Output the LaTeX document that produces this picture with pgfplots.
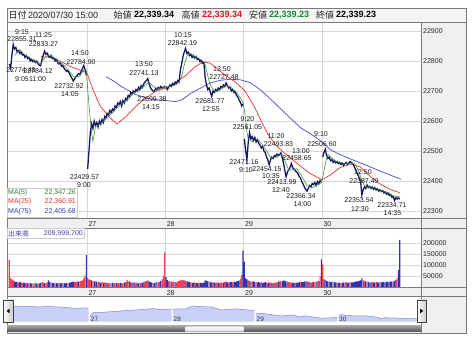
\documentclass[border=0pt]{standalone}
\usepackage{fontspec}
\setmainfont{Liberation Sans}
\newfontfamily\cjk{Noto Sans CJK JP}
\usepackage{pgfplots}
\pgfplotsset{compat=1.18}
\usepackage{pgfplotstable}
\definecolor{framec}{HTML}{7A7A7A}
\definecolor{stripbg}{HTML}{F0F0F0}
\definecolor{hdrbg}{HTML}{F4F4F4}
\definecolor{gridc}{HTML}{D8D8D8}
\definecolor{candle}{HTML}{18186A}
\definecolor{ma5}{HTML}{3C963C}
\definecolor{ma25}{HTML}{F03030}
\definecolor{ma75}{HTML}{4646DC}
\definecolor{volr}{HTML}{F04058}
\definecolor{volb}{HTML}{3232B4}
\definecolor{navfill}{HTML}{C8D0F8}
\definecolor{navline}{HTML}{8088DC}
\definecolor{hred}{HTML}{E8101C}
\definecolor{hgreen}{HTML}{108A2A}
\definecolor{annc}{HTML}{1A1A1A}
\definecolor{volt}{HTML}{4040A8}
\newcommand\tf{\fontsize{7}{8}\selectfont}
\newcommand\hf{\fontsize{9}{10}\selectfont}

\pgfplotstableread[row sep=\\]{
x p\\
0 22790\\ 1 22775\\ 2 22820\\ 3 22855\\ 4 22840\\ 5 22845\\ 6 22830\\ 7 22835\\ 8 22825\\ 9 22830\\
10 22820\\ 11 22822\\ 12 22812\\ 13 22818\\ 14 22808\\ 15 22812\\ 16 22800\\ 17 22805\\ 18 22798\\ 19 22802\\
20 22795\\ 21 22800\\ 22 22790\\ 23 22786\\ 24 22784\\ 25 22805\\ 26 22820\\ 27 22833\\ 28 22822\\ 29 22826\\
30 22815\\ 31 22812\\ 32 22818\\ 33 22808\\ 34 22810\\ 35 22800\\ 36 22805\\ 37 22795\\ 38 22790\\ 39 22794\\
40 22782\\ 41 22785\\ 42 22775\\ 43 22770\\ 44 22765\\ 45 22768\\ 46 22758\\ 47 22750\\ 48 22742\\ 49 22733\\
50 22740\\ 51 22748\\ 52 22752\\ 53 22758\\ 54 22755\\ 55 22765\\ 56 22775\\ 57 22785\\ 58 22772\\ 59 22752\\
nan nan\\
60 22440\\ 61 22500\\ 62 22560\\ 63 22590\\ 64 22575\\ 65 22600\\ 66 22585\\ 67 22595\\ 68 22580\\ 69 22600\\
70 22590\\ 71 22605\\ 72 22595\\ 73 22615\\ 74 22610\\ 75 22625\\ 76 22620\\ 77 22635\\ 78 22628\\ 79 22640\\
80 22635\\ 81 22650\\ 82 22645\\ 83 22660\\ 84 22655\\ 85 22665\\ 86 22650\\ 87 22668\\ 88 22660\\ 89 22675\\
90 22670\\ 91 22685\\ 92 22680\\ 93 22695\\ 94 22690\\ 95 22700\\ 96 22695\\ 97 22705\\ 98 22700\\ 99 22712\\
100 22705\\ 101 22718\\ 102 22712\\ 103 22725\\ 104 22730\\ 105 22735\\ 106 22741\\ 107 22725\\ 108 22712\\ 109 22705\\
110 22700\\ 111 22699\\ 112 22708\\ 113 22704\\ 114 22712\\ 115 22708\\ 116 22715\\ 117 22710\\ 118 22712\\ 119 22716\\
nan nan\\
120 22715\\ 121 22705\\ 122 22712\\ 123 22720\\ 124 22715\\ 125 22725\\ 126 22720\\ 127 22730\\ 128 22725\\ 129 22735\\
130 22730\\ 131 22770\\ 132 22790\\ 133 22815\\ 134 22830\\ 135 22842\\ 136 22825\\ 137 22830\\ 138 22818\\ 139 22822\\
140 22812\\ 141 22818\\ 142 22810\\ 143 22815\\ 144 22805\\ 145 22808\\ 146 22798\\ 147 22802\\ 148 22792\\ 149 22795\\
150 22745\\ 151 22720\\ 152 22705\\ 153 22710\\ 154 22695\\ 155 22682\\ 156 22700\\ 157 22695\\ 158 22705\\ 159 22700\\
160 22710\\ 161 22705\\ 162 22715\\ 163 22712\\ 164 22720\\ 165 22715\\ 166 22727\\ 167 22718\\ 168 22710\\ 169 22714\\
170 22700\\ 171 22705\\ 172 22695\\ 173 22698\\ 174 22685\\ 175 22680\\ 176 22670\\ 177 22662\\ 178 22650\\ 179 22657\\
nan nan\\
180 22540\\ 181 22500\\ 182 22471\\ 183 22530\\ 184 22561\\ 185 22540\\ 186 22548\\ 187 22535\\ 188 22545\\ 189 22530\\
190 22538\\ 191 22525\\ 192 22520\\ 193 22510\\ 194 22515\\ 195 22500\\ 196 22495\\ 197 22480\\ 198 22470\\ 199 22454\\
200 22470\\ 201 22480\\ 202 22475\\ 203 22485\\ 204 22482\\ 205 22490\\ 206 22485\\ 207 22488\\ 208 22494\\ 209 22478\\
210 22460\\ 211 22435\\ 212 22414\\ 213 22430\\ 214 22438\\ 215 22445\\ 216 22458\\ 217 22445\\ 218 22440\\ 219 22435\\
220 22430\\ 221 22425\\ 222 22415\\ 223 22410\\ 224 22398\\ 225 22390\\ 226 22380\\ 227 22372\\ 228 22366\\ 229 22375\\
230 22385\\ 231 22380\\ 232 22392\\ 233 22388\\ 234 22395\\ 235 22385\\ 236 22398\\ 237 22390\\ 238 22402\\ 239 22397\\
nan nan\\
240 22480\\ 241 22495\\ 242 22506\\ 243 22485\\ 244 22475\\ 245 22480\\ 246 22468\\ 247 22472\\ 248 22462\\ 249 22468\\
250 22460\\ 251 22465\\ 252 22458\\ 253 22462\\ 254 22455\\ 255 22460\\ 256 22452\\ 257 22458\\ 258 22462\\ 259 22455\\
260 22460\\ 261 22465\\ 262 22462\\ 263 22458\\ 264 22450\\ 265 22440\\ 266 22430\\ 267 22420\\ 268 22410\\ 269 22400\\
270 22354\\ 271 22370\\ 272 22380\\ 273 22375\\ 274 22387\\ 275 22378\\ 276 22382\\ 277 22375\\ 278 22380\\ 279 22372\\
280 22378\\ 281 22370\\ 282 22374\\ 283 22366\\ 284 22370\\ 285 22365\\ 286 22368\\ 287 22360\\ 288 22364\\ 289 22356\\
290 22360\\ 291 22352\\ 292 22355\\ 293 22346\\ 294 22348\\ 295 22335\\ 296 22345\\ 297 22340\\ 298 22344\\ 299 22339\\
}\pricetab

\pgfplotstableread[row sep=\\]{
i v c\\
0 123 1\\ 1 40 1\\ 2 35 1\\ 3 30 1\\ 4 25 0\\ 5 22 0\\ 6 24 0\\ 7 20 1\\ 8 22 0\\ 9 21 0\\
10 18 1\\ 11 20 0\\ 12 19 0\\ 13 17 1\\ 14 18 0\\ 15 16 1\\ 16 18 0\\ 17 15 0\\ 18 17 1\\ 19 16 0\\
20 18 1\\ 21 15 0\\ 22 17 1\\ 23 16 0\\ 24 19 0\\ 25 22 1\\ 26 20 1\\ 27 18 0\\ 28 17 1\\ 29 21 1\\
30 30 0\\ 31 22 0\\ 32 20 1\\ 33 18 0\\ 34 19 0\\ 35 17 1\\ 36 18 0\\ 37 16 0\\ 38 19 1\\ 39 17 0\\
40 18 0\\ 41 16 1\\ 42 19 0\\ 43 17 0\\ 44 18 0\\ 45 20 1\\ 46 19 0\\ 47 21 0\\ 48 22 0\\ 49 24 0\\
50 23 1\\ 51 22 1\\ 52 25 1\\ 53 24 0\\ 54 26 1\\ 55 28 1\\ 56 30 1\\ 57 38 1\\ 58 52 1\\ 59 145 0\\
60 40 1\\ 61 35 1\\ 62 32 1\\ 63 30 0\\ 64 28 1\\ 65 26 0\\ 66 25 1\\ 67 24 0\\ 68 22 1\\ 69 23 1\\
70 20 0\\ 71 22 1\\ 72 19 0\\ 73 21 1\\ 74 20 0\\ 75 18 1\\ 76 19 1\\ 77 17 0\\ 78 18 1\\ 79 20 0\\
80 17 1\\ 81 19 1\\ 82 18 0\\ 83 20 1\\ 84 17 1\\ 85 19 0\\ 86 18 1\\ 87 16 1\\ 88 20 0\\ 89 22 1\\
90 32 1\\ 91 28 1\\ 92 24 0\\ 93 22 1\\ 94 20 0\\ 95 19 1\\ 96 21 1\\ 97 18 0\\ 98 20 1\\ 99 17 0\\
100 19 1\\ 101 18 1\\ 102 20 0\\ 103 22 1\\ 104 25 1\\ 105 28 1\\ 106 30 1\\ 107 26 0\\ 108 22 0\\ 109 20 0\\
110 19 1\\ 111 18 0\\ 112 20 1\\ 113 22 0\\ 114 21 1\\ 115 24 1\\ 116 28 0\\ 117 35 1\\ 118 50 1\\ 119 160 1\\
120 45 0\\ 121 32 0\\ 122 28 1\\ 123 26 0\\ 124 24 1\\ 125 22 1\\ 126 24 0\\ 127 22 1\\ 128 21 1\\ 129 25 1\\
130 28 1\\ 131 34 1\\ 132 30 1\\ 133 32 1\\ 134 30 1\\ 135 28 1\\ 136 26 0\\ 137 24 0\\ 138 22 0\\ 139 21 1\\
140 20 0\\ 141 19 0\\ 142 21 1\\ 143 18 0\\ 144 19 0\\ 145 17 1\\ 146 20 0\\ 147 18 0\\ 148 19 0\\ 149 20 0\\
150 30 0\\ 151 28 0\\ 152 26 0\\ 153 24 1\\ 154 22 0\\ 155 20 0\\ 156 22 1\\ 157 20 0\\ 158 19 1\\ 159 21 1\\
160 18 0\\ 161 20 1\\ 162 19 1\\ 163 21 1\\ 164 20 0\\ 165 22 1\\ 166 24 0\\ 167 21 0\\ 168 20 1\\ 169 22 0\\
170 23 0\\ 171 21 1\\ 172 24 0\\ 173 22 0\\ 174 25 0\\ 175 27 0\\ 176 30 0\\ 177 38 1\\ 178 55 1\\ 179 165 0\\
180 115 0\\ 181 40 0\\ 182 35 0\\ 183 30 1\\ 184 28 1\\ 185 26 0\\ 186 24 1\\ 187 25 0\\ 188 22 0\\ 189 23 1\\
190 21 0\\ 191 22 0\\ 192 20 0\\ 193 21 1\\ 194 19 0\\ 195 20 0\\ 196 22 0\\ 197 20 1\\ 198 19 0\\ 199 21 0\\
200 20 1\\ 201 19 1\\ 202 18 0\\ 203 20 1\\ 204 19 1\\ 205 22 1\\ 206 24 0\\ 207 26 1\\ 208 28 1\\ 209 26 0\\
210 30 0\\ 211 28 0\\ 212 26 0\\ 213 24 1\\ 214 22 1\\ 215 21 1\\ 216 20 1\\ 217 19 0\\ 218 20 0\\ 219 18 1\\
220 19 0\\ 221 20 0\\ 222 22 0\\ 223 21 1\\ 224 23 0\\ 225 22 0\\ 226 25 0\\ 227 24 1\\ 228 26 0\\ 229 24 1\\
230 22 1\\ 231 20 0\\ 232 22 1\\ 233 21 0\\ 234 23 1\\ 235 22 0\\ 236 25 1\\ 237 28 1\\ 238 50 1\\ 239 126 0\\
240 103 1\\ 241 35 0\\ 242 32 1\\ 243 28 0\\ 244 26 0\\ 245 24 1\\ 246 22 0\\ 247 24 0\\ 248 21 1\\ 249 22 0\\
250 20 0\\ 251 21 1\\ 252 19 0\\ 253 20 0\\ 254 18 1\\ 255 19 0\\ 256 21 0\\ 257 20 1\\ 258 22 1\\ 259 19 0\\
260 20 0\\ 261 22 1\\ 262 21 0\\ 263 20 0\\ 264 22 0\\ 265 24 0\\ 266 25 0\\ 267 26 0\\ 268 28 0\\ 269 30 0\\
270 40 0\\ 271 32 1\\ 272 28 1\\ 273 25 0\\ 274 24 1\\ 275 22 0\\ 276 21 1\\ 277 20 0\\ 278 22 1\\ 279 21 0\\
280 20 0\\ 281 22 1\\ 282 21 0\\ 283 20 0\\ 284 22 1\\ 285 21 0\\ 286 23 0\\ 287 22 0\\ 288 21 1\\ 289 24 0\\
290 22 0\\ 291 23 1\\ 292 25 0\\ 293 24 0\\ 294 26 1\\ 295 28 0\\ 296 32 1\\ 297 40 1\\ 298 77 0\\ 299 214 0\\
}\voltab

\pgfplotsset{
  panel/.style={scale only axis, width=413.7pt, anchor=south west,
    xmin=-1.55, xmax=315.3, axis line style={draw=none},
    major tick length=0pt, tick style={draw=none}, clip=false,
    scaled x ticks=false, scaled y ticks=false,
    xmajorgrids, ymajorgrids, grid style={gridc, line width=0.5pt},
    yticklabel pos=right,
    yticklabel style={anchor=west, inner sep=0pt, xshift=2pt, font=\tf, text=black!85},
    xtick={59.5,119.5,179.5,239.5}, xticklabels={27,28,29,30},
    xticklabel style={anchor=north west, inner sep=0pt, xshift=1.3pt, yshift=-3pt, font=\tf, text=black!85},
    /pgf/number format/assume math mode=true}
}

\begin{document}
\begin{tikzpicture}[x=1pt,y=1pt]
\useasboundingbox (0,0) rectangle (474,340);
\fill[white] (0,0) rectangle (474,340);
% backgrounds
\fill[hdrbg] (7,318) rectangle (466,332);
\fill[stripbg] (421,7) rectangle (466,318);
\fill[white] (7,122) rectangle (421,318);
\fill[stripbg] (7,112) rectangle (421,122);
\fill[white] (7,53) rectangle (421,112);
\fill[stripbg] (7,43.5) rectangle (421,53);
\fill[white] (7,15) rectangle (421,43.5);
\fill[stripbg] (7,7) rectangle (421,15);

% price panel
\begin{axis}[panel, at={(7.3pt,122pt)}, height=196pt, ymin=22276.7, ymax=22930,
  ytick={22300,22400,22500,22600,22700,22800,22900},
  yticklabels={22300,22400,22500,22600,22700,22800,22900}]
\addplot[ma75, line width=0.7pt, mark=none] coordinates {
(74,22748) (80,22733) (85.4,22716) (96.8,22688) (108.3,22673) (119.8,22668) (127.5,22665)
(132,22670) (138.9,22692) (146.6,22710) (154.3,22727) (161.9,22736) (169.6,22739) (177.3,22737)
(184.9,22727) (192.6,22703) (200.3,22672) (207.9,22640) (215.6,22608) (223.3,22577) (230.9,22557)
(238.6,22533) (246.3,22503) (253.9,22487) (261.6,22473) (273.1,22453) (284.6,22432) (299.9,22406)};
\addplot[ma25, line width=0.7pt, mark=none] coordinates {
(24,22814) (30,22813) (35,22807) (41,22795) (46.5,22782) (54,22770) (59.5,22760) (64,22705)
(69.5,22650) (77.3,22610) (82.5,22590) (88.6,22612) (100,22662) (111.6,22698) (120,22710)
(127,22727) (134.6,22750) (142.3,22781) (148.4,22797) (153.8,22793) (165.2,22753) (172.9,22731)
(180.5,22700) (188,22645) (194,22590) (198.2,22555) (204,22520) (209.7,22497) (215,22478)
(222.8,22450) (230.5,22425) (239.5,22404) (245.8,22420) (253.5,22445) (261,22457) (268.8,22447)
(276.5,22415) (284,22390) (291.6,22372) (299,22361)};
\addplot[candle, line width=1.3pt, mark=none, unbounded coords=jump] table[x=x,y=p]{\pricetab};
\addplot[ma5, line width=0.6pt, mark=none] coordinates {
(4,22819) (8,22837) (12,22820) (16,22810) (20,22800) (24,22790) (27,22810) (30,22822) (34,22812)
(38,22800) (42,22785) (46,22765) (50,22745) (54,22750) (57,22770) (59,22770)
(60,22707) (61,22653) (62,22607) (63,22560) (64,22533) (66,22582) (70,22590) (75,22612) (80,22632)
(85,22655) (90,22667) (95,22692) (100,22703) (104,22720) (107,22730) (110,22716) (114,22706) (119,22712)
(120,22713) (125,22716) (130,22728) (132,22749) (134,22787) (136,22816) (138,22827) (142,22816)
(146,22806) (149,22797) (150,22787) (151,22769) (152,22751) (153,22732) (155,22712) (158,22697)
(162,22706) (166,22717) (170,22711) (174,22696) (178,22669) (179,22661)
(180,22637) (181,22605) (182,22563) (183,22540) (184,22540) (186,22530) (190,22540) (194,22520)
(198,22494) (200,22478) (204,22478) (208,22488) (210,22480) (212,22457) (214,22435) (216,22437)
(220,22441) (224,22416) (228,22385) (232,22377) (236,22388) (239,22394)
(240,22411) (241,22433) (242,22458) (243,22474) (244,22488) (246,22481) (250,22466) (255,22460)
(260,22457) (264,22459) (266,22448) (268,22428) (270,22401) (272,22385) (274,22379) (278,22380)
(282,22374) (286,22367) (290,22361) (294,22351) (299,22347)};
\end{axis}

% volume panel
\begin{axis}[panel, at={(7.3pt,53pt)}, height=59pt, ymin=0, ymax=268,
  ytick={50,100,150,200}, yticklabels={50000,100000,150000,200000}]
\addplot[ybar, bar width=1.15pt, bar shift=0pt, fill=volr, draw=none,
  restrict expr to domain={\thisrow{c}}{0.5:1.5}] table[x=i,y=v]{\voltab};
\addplot[ybar, bar width=1.15pt, bar shift=0pt, fill=volb, draw=none,
  restrict expr to domain={\thisrow{c}}{-0.5:0.5}] table[x=i,y=v]{\voltab};
\end{axis}

% navigator
\begin{axis}[scale only axis, width=413.7pt, height=25pt, anchor=south west, at={(7.3pt,18.3pt)},
  xmin=0.65, xmax=300, ymin=22234, ymax=23190, axis line style={draw=none},
  xtick=\empty, ytick=\empty, clip=true]
\addplot[fill=navfill, draw=none] coordinates {(0.5,22234) (0.5,22790) (5,22835) (15,22815) (25,22800) (30,22820) (40,22790) (50,22745) (55,22760) (59.5,22755) (59.5,22234)};
\addplot[fill=navfill, draw=none] coordinates {(60.5,22234) (60.5,22440) (63,22590) (70,22595) (80,22635) (90,22670) (100,22705) (106,22735) (111,22700) (119.5,22715) (119.5,22234)};
\addplot[fill=navfill, draw=none] coordinates {(120.5,22234) (120.5,22715) (130,22730) (135,22840) (140,22812) (149,22795) (155,22685) (166,22725) (179.5,22657) (179.5,22234)};
\addplot[fill=navfill, draw=none] coordinates {(180.5,22234) (180.5,22540) (184,22560) (199,22454) (208,22494) (212,22414) (216,22458) (228,22366) (239.5,22397) (239.5,22234)};
\addplot[fill=navfill, draw=none] coordinates {(240.5,22234) (240.5,22480) (242,22506) (250,22460) (260,22460) (269,22400) (270,22354) (274,22387) (290,22360) (299.5,22339) (299.5,22234)};
\addplot[navline, line width=0.5pt, mark=none] coordinates {(0.5,22790) (5,22835) (15,22815) (25,22800) (30,22820) (40,22790) (50,22745) (55,22760) (59.5,22755)};
\addplot[navline, line width=0.5pt, mark=none] coordinates {(60.5,22440) (63,22590) (70,22595) (80,22635) (90,22670) (100,22705) (106,22735) (111,22700) (119.5,22715)};
\addplot[navline, line width=0.5pt, mark=none] coordinates {(120.5,22715) (130,22730) (135,22840) (140,22812) (149,22795) (155,22685) (166,22725) (179.5,22657)};
\addplot[navline, line width=0.5pt, mark=none] coordinates {(180.5,22540) (184,22560) (199,22454) (208,22494) (212,22414) (216,22458) (228,22366) (239.5,22397)};
\addplot[navline, line width=0.5pt, mark=none] coordinates {(240.5,22480) (242,22506) (250,22460) (260,22460) (269,22400) (270,22354) (274,22387) (290,22360) (299.5,22339)};
\end{axis}

% navigator date labels
\foreach \xx/\dd in {90.7/27,173.5/28,256.5/29,339/30}
  \node[anchor=west, inner sep=0pt, font=\fontsize{6.5}{7}\selectfont, text=black!80] at (\xx,20.5) {\dd};

% frames
\draw[framec, line width=0.6pt] (7,7) rectangle (466,332);
\draw[framec, line width=0.5pt] (7,318) -- (466,318);
\draw[framec, line width=0.5pt] (421,7) -- (421,318);
\draw[framec, line width=0.4pt] (7,122) -- (466,122) (7,112) -- (466,112) (7,53) -- (466,53) (7,43.5) -- (466,43.5) (7,15) -- (421,15);

% scrollbar
\shade[top color=gray!75, bottom color=gray!60!black] (7,8) rectangle (421,14);
\draw[gray!60, top color=white, bottom color=gray!25, rounded corners=1pt] (185,8.3) rectangle (244,13.7);
% nav buttons
\draw[gray!50!black, line width=0.4pt, left color=white, right color=gray!40] (3,18) rectangle (13,40);
\fill (9.6,31.3) -- (6.6,29) -- (9.6,26.7) -- cycle;
\draw[gray!50!black, line width=0.4pt, left color=white, right color=gray!40] (417,18) rectangle (426,40);
\fill (420.2,31.3) -- (423.2,29) -- (420.2,26.7) -- cycle;

% header
\node[anchor=west, inner sep=0pt, font=\hf\cjk, text=black!85] at (8.5,325) {日付};
\node[anchor=west, inner sep=0pt, font=\hf, text=black!85] at (28,325) {2020/07/30 15:00};
\node[anchor=west, inner sep=0pt, font=\hf\cjk, text=black!85] at (113.5,325) {始値};
\node[anchor=west, inner sep=0pt, font=\hf\bfseries] at (134,325) {22,339.34};
\node[anchor=west, inner sep=0pt, font=\hf\cjk, text=black!85] at (181.5,325) {高値};
\node[anchor=west, inner sep=0pt, font=\hf\bfseries, text=hred] at (202,325) {22,339.34};
\node[anchor=west, inner sep=0pt, font=\hf\cjk, text=black!85] at (249,325) {安値};
\node[anchor=west, inner sep=0pt, font=\hf\bfseries, text=hgreen] at (269,325) {22,339.23};
\node[anchor=west, inner sep=0pt, font=\hf\cjk, text=black!85] at (316,325) {終値};
\node[anchor=west, inner sep=0pt, font=\hf\bfseries] at (336,325) {22,339.23};

% MA legend
\fill[white, opacity=0.85] (7.3,123) rectangle (77,152);
\draw[gray!40, line width=0.4pt] (7.3,123) rectangle (77,152);
\node[anchor=west, inner sep=0pt, font=\tf, text=ma5!85!black] at (8,147.3) {MA(5)};
\node[anchor=east, inner sep=0pt, font=\tf, text=ma5!85!black] at (76,147.3) {22,347.26};
\node[anchor=west, inner sep=0pt, font=\tf, text=ma25] at (8,138) {MA(25)};
\node[anchor=east, inner sep=0pt, font=\tf, text=ma25] at (76,138) {22,360.91};
\node[anchor=west, inner sep=0pt, font=\tf, text=ma75!85!black] at (8,128.3) {MA(75)};
\node[anchor=east, inner sep=0pt, font=\tf, text=ma75!85!black] at (76,128.3) {22,405.68};

% volume label
\fill[white] (7.3,101.5) rectangle (84,111.5);
\draw[gray!40, line width=0.4pt] (7.3,101.5) rectangle (84,111.5);
\node[anchor=west, inner sep=0pt, font=\tf\cjk, text=volt] at (8,106.5) {出来高};
\node[anchor=east, inner sep=0pt, font=\tf, text=volt] at (83,106.5) {209,999,700};

% price annotations
\begin{scope}[every node/.style={font=\tf, text=annc, inner sep=0pt}]
\node at (22,308) {9:15}; \node at (22,301) {22855.31};
\node at (43.5,304.5) {11:25}; \node at (43.5,295.5) {22833.27};
\node at (80,286.7) {14:50}; \node at (81,278.3) {22784.90};
\node at (21,270) {22774.48}; \node at (22,261) {9:05};
\node at (38,269.3) {22784.12}; \node at (37.5,261) {11:00};
\node at (69,254) {22732.92}; \node at (70,246) {14:05};
\node at (84.5,163.3) {22429.57}; \node at (84,155) {9:00};
\node at (144,275.7) {13:50}; \node at (144,267) {22741.13};
\node at (152,240.7) {22699.38}; \node at (151,232.7) {14:15};
\node at (183,305) {10:15}; \node at (182.5,296.7) {22842.19};
\node at (222,270.7) {13:50}; \node at (224,262.7) {22727.48};
\node at (210,239) {22681.77}; \node at (211,230.7) {12:55};
\node at (247.5,220.7) {9:20}; \node at (247.5,212.7) {22561.05};
\node at (244,178) {22471.16}; \node at (246,169.5) {9:10};
\node at (276,204) {11:20}; \node at (278.5,196) {22493.83};
\node at (301,189) {13:00}; \node at (297,181.7) {22458.65};
\node at (267,170.7) {22454.15}; \node at (271,163.5) {10:35};
\node at (282,158) {22413.99}; \node at (281,150.3) {12:40};
\node at (301,143.7) {22366.34}; \node at (302.5,135.5) {14:00};
\node at (321,206) {9:10}; \node at (322,196) {22506.60};
\node at (363,168.3) {12:50}; \node at (364,159) {22387.49};
\node at (359,140) {22353.54}; \node at (360,131) {12:30};
\node at (392,135) {22334.71}; \node at (392.5,126.5) {14:35};
\end{scope}
\end{tikzpicture}
\end{document}
